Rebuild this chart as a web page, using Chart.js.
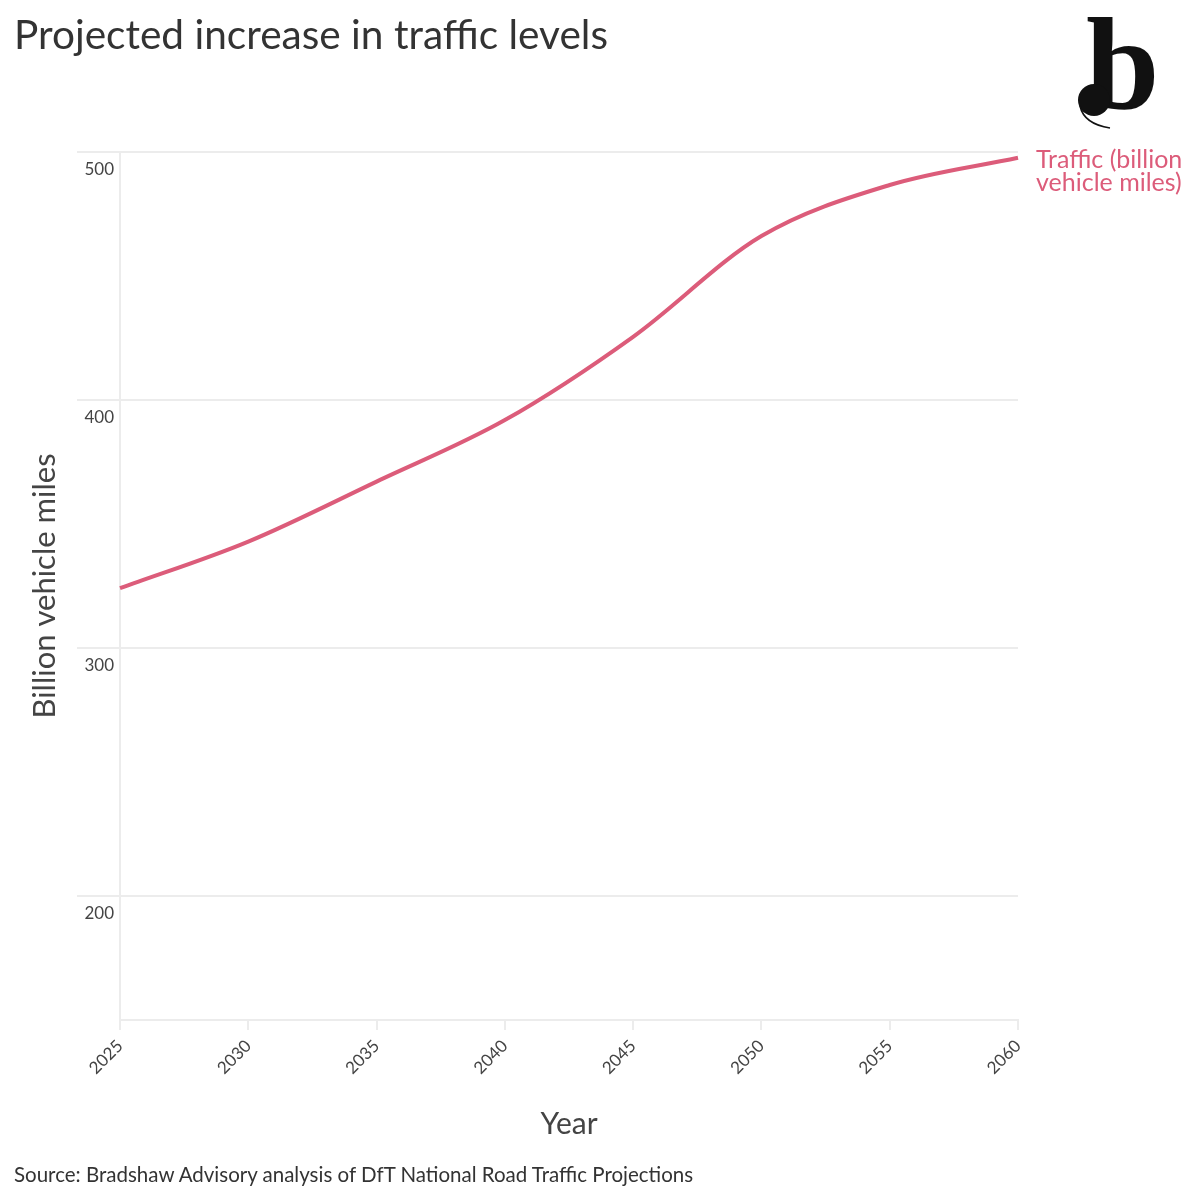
<!DOCTYPE html>
<html>
<head>
<meta charset="utf-8">
<script src="https://cdn.jsdelivr.net/npm/chart.js@4/dist/chart.umd.min.js"></script>
<style>
  body { margin: 0; background: #fff; }
  #wrap { position: relative; width: 1200px; height: 1200px; overflow: hidden; }
  #chart { position: absolute; left: 0; top: 0; }
  .title { position: absolute; left: 14px; top: 9px; font: 40.6px "Lato", sans-serif; color: #333; white-space: nowrap; }
  .source { position: absolute; left: 14px; top: 1162px; font: 20.5px "Lato", sans-serif; color: #333; white-space: nowrap; }
  .logo { position: absolute; left: 1070px; top: 10px; width: 100px; height: 125px; }
</style>
</head>
<body>
<div id="wrap">
  <canvas id="chart" width="1200" height="1200"></canvas>
  <div class="title">Projected increase in traffic levels</div>
  <svg class="logo" viewBox="0 0 100 125">
    <text x="16" y="98" font-family="Liberation Serif" font-weight="bold" font-size="132" fill="#111">b</text>
    <circle cx="24" cy="90" r="16" fill="#111"></circle>
    <path d="M10 96 Q14 114 40 118" stroke="#111" stroke-width="1.6" fill="none"></path>
  </svg>
  <div class="source">Source: Bradshaw Advisory analysis of DfT National Road Traffic Projections</div>
</div>
<script>
const years = ["2025", "2030", "2035", "2040", "2045", "2050", "2055", "2060"];
const traffic = [324.1, 342.9, 367.1, 391.9, 425.5, 466.1, 486.7, 497.7];
const seriesLabel = ["Traffic (billion", "vehicle miles)"];
const yMin = 150;
const yMax = 500;

const lineColor = "#dc5c7a";
const gridColor = "#ececec";
const tickColor = "#444";

// writes the series name next to the last point
const endLabel = {
  id: "endLabel",
  afterDatasetsDraw(chart) {
    const meta = chart.getDatasetMeta(0);
    const last = meta.data[meta.data.length - 1];
    if (!last) return;
    const ctx = chart.ctx;
    ctx.save();
    ctx.fillStyle = lineColor;
    ctx.font = '25px "Lato", sans-serif';
    ctx.textAlign = "left";
    ctx.textBaseline = "middle";
    seriesLabel.forEach((t, i) => {
      ctx.fillText(t, last.x + 18, last.y + 2 + i * 23);
    });
    ctx.restore();
  }
};

new Chart(document.getElementById("chart"), {
  type: "line",
  data: {
    labels: years,
    datasets: [{
      label: seriesLabel.join(" "),
      data: traffic,
      borderColor: lineColor,
      borderWidth: 4,
      pointRadius: 0,
      fill: false,
      cubicInterpolationMode: "monotone"
    }]
  },
  options: {
    responsive: false,
    animation: false,
    devicePixelRatio: 1,
    layout: { padding: { left: 0, top: 152, right: 182, bottom: 0 } },
    plugins: {
      legend: { display: false },
      tooltip: { enabled: false }
    },
    scales: {
      x: {
        offset: false,
        afterFit(scale) { scale.height = 180; },
        grid: { drawOnChartArea: false, drawTicks: true, tickLength: 10, color: gridColor, lineWidth: 2 },
        border: { display: true, color: gridColor, width: 2 },
        ticks: {
          color: tickColor,
          font: { family: "Lato", size: 17 },
          maxRotation: 45,
          minRotation: 45,
          padding: 6
        },
        title: {
          display: true,
          text: "Year",
          color: "#444",
          font: { family: "Lato", size: 30 },
          padding: { top: 0, bottom: 58 }
        }
      },
      y: {
        min: yMin,
        max: yMax,
        afterFit(scale) { scale.width = 120; },
        grid: { color: gridColor, lineWidth: 2, drawTicks: true, tickLength: 43 },
        border: { display: true, color: gridColor, width: 2 },
        ticks: {
          stepSize: 100,
          includeBounds: false,
          color: tickColor,
          font: { family: "Lato", size: 17 },
          padding: -37,
          labelOffset: 18
        },
        title: {
          display: true,
          text: "Billion vehicle miles",
          color: "#444",
          font: { family: "Lato", size: 31 },
          padding: { top: 26, bottom: 0 }
        }
      }
    }
  },
  plugins: [endLabel]
});
</script>
</body>
</html>
